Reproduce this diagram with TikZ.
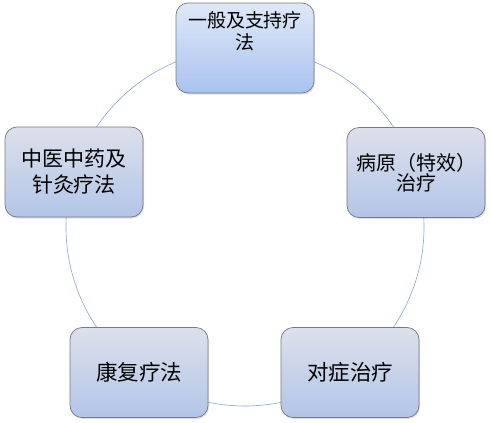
\documentclass[tikz,border=0pt]{standalone}
\usepackage{fontspec}
\setmainfont{Noto Sans CJK SC}
\usetikzlibrary{shadows}
\definecolor{ringc}{HTML}{8AA4D8}
\definecolor{boxtop}{HTML}{DDE0EB}
\definecolor{boxbot}{HTML}{B2C5E8}
\definecolor{btop}{HTML}{DFE8F8}
\definecolor{bbot}{HTML}{A9C3EF}
\definecolor{edgec}{HTML}{7A7A7A}
\tikzset{
  stagebox/.style={draw=edgec, line width=0.7pt, rounded corners=12pt,
    minimum width=138pt, minimum height=90pt, top color=boxtop, bottom color=boxbot,
    align=center, font=\fontsize{20pt}{23pt}\selectfont, inner sep=2pt,
    drop shadow={shadow xshift=1pt, shadow yshift=-1.5pt, opacity=0.25}},
  topbox/.style={stagebox, top color=btop, bottom color=bbot},
  lbl/.style={align=center, font=\fontsize{19pt}{22pt}\selectfont, inner sep=0pt},
  bigtext/.style={font=\fontsize{21.5pt}{25pt}\selectfont},
}
\begin{document}
\begin{tikzpicture}[x=1pt,y=-1pt]
\useasboundingbox (0,0) rectangle (491,423);
\fill[white] (0,0) rectangle (491,423);
\coordinate (c) at (245,227);
\draw[ringc, line width=0.6pt] (c) circle (179);
\node[topbox] (b1) at (245,48) {};
\node[lbl, anchor=north] (t1) at (245,11) {一般及支持疗\\法};
\node[stagebox] (b2) at (416,172.5) {病原（特效）\\[-3pt]治疗};
\node[stagebox, bigtext] (b3) at (350,372.5) {对症治疗};
\node[stagebox, bigtext] (b4) at (139,372.5) {康复疗法};
\node[stagebox, font=\fontsize{21pt}{25pt}\selectfont] (b5) at (74,172) {中医中药及\\[1pt]针灸疗法};
\end{tikzpicture}
\end{document}
